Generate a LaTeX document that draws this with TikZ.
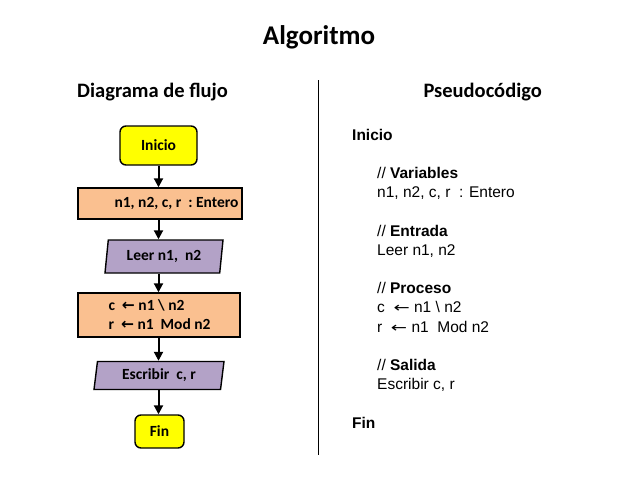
\documentclass[tikz,border=0pt]{standalone}
\usepackage{fontspec}
\usepackage{graphicx}
\setmainfont{Carlito}
\newfontfamily\arialf{Liberation Sans}
\newfontfamily\djv{DejaVu Sans}
\usetikzlibrary{arrows.meta,shapes.geometric}
\definecolor{termyellow}{HTML}{FFFF00}
\definecolor{procpeach}{HTML}{FAC090}
\definecolor{iopurple}{HTML}{B3A2C7}
\newcommand{\thinarrow}{{\djv\scalebox{1.25}[0.9]{←}}}
\begin{document}
\begin{tikzpicture}[x=1pt,y=-1pt,
  box/.style={draw=black, line width=1.4pt, inner sep=0pt, font=\bfseries\fontsize{15.5}{19}\selectfont},
  term/.style={box, fill=termyellow, rounded corners=6pt},
  procbox/.style={box, fill=procpeach},
  iobox/.style={box, fill=iopurple, trapezium, trapezium stretches body,
                trapezium left angle=75, trapezium right angle=105},
  arr/.style={line width=2pt, -{Triangle[length=9pt,width=9pt]}},
  pseudo/.style={anchor=base west, inner sep=0pt, font=\arialf\fontsize{15.5}{19}\selectfont},
  head/.style={anchor=base, inner sep=0pt, font=\bfseries\fontsize{20.5}{24}\selectfont}
]
\useasboundingbox (0,0) rectangle (638,479);
\fill[white] (0,0) rectangle (638,479);

% titles
\node[anchor=base, inner sep=0pt, font=\bfseries\fontsize{27}{32}\selectfont] (title) at (319,45) {Algoritmo};
\node[head, anchor=base west] (hflow) at (77,97) {Diagrama de flujo};
\node[head, anchor=base east] (hpseudo) at (542,97) {Pseudocódigo};

% divider
\coordinate (divtop) at (318,80);
\coordinate (divbot) at (318,455);
\draw[line width=0.9pt] (divtop) -- (divbot);

% flowchart
\node[term, minimum width=77pt, minimum height=39pt] (ini) at (158.5,145.5) {Inicio};
\node[procbox, minimum width=164pt, minimum height=31pt, text width=157pt, align=right] (dec) at (160,203.5)
  {n1,\hspace{3.5pt}n2,\hspace{3.5pt}c,\hspace{3.5pt}r\hspace{7pt}:\hspace{3.5pt}Entero\hspace*{3pt}};
\node[iobox, minimum width=118pt, minimum height=33pt] (leer) at (164,256.5) {Leer n1,\ \ n2};
\node[procbox, minimum width=162pt, minimum height=44pt] (proc) at (159,315) {};
\node[anchor=west, inner sep=0pt, align=left, font=\bfseries\fontsize{15.5}{19}\selectfont] (proctext) at ([xshift=31pt]proc.west)
  {c\ \ {\djv\bfseries ←} n1 \textbackslash\ n2\\ r\ \ {\djv\bfseries ←} n1\ \ Mod n2};
\node[iobox, minimum width=130pt, minimum height=28pt] (escr) at (159,375.5) {Escribir\ \ c, r};
\node[term, minimum width=49pt, minimum height=33pt] (fin) at (159.5,431.5) {Fin};

\draw[arr] (ini.south) -- (ini.south |- dec.north);
\draw[arr] (dec.south -| ini.south) -- (ini.south |- leer.north);
\draw[arr] (leer.south -| ini.south) -- (ini.south |- proc.north);
\draw[arr] (proc.south -| ini.south) -- (ini.south |- escr.north);
\draw[arr] (escr.south -| ini.south) -- (ini.south |- fin.north);

% pseudocode
\node[pseudo] (p0) at (352,140) {\bfseries Inicio};
\node[pseudo] (p1) at (377,178.4) {// \bfseries Variables};
\node[pseudo] (p2) at (377,197.6) {n1, n2, c, r\ \ : Entero};
\node[pseudo] (p3) at (377,236) {// \bfseries Entrada};
\node[pseudo] (p4) at (377,255) {Leer n1, n2};
\node[pseudo] (p5) at (377,293.6) {// \bfseries Proceso};
\node[pseudo] (p6) at (377,312.8) {c\ \ \thinarrow\ n1 \textbackslash\ n2};
\node[pseudo] (p7) at (377,332) {r\ \ \thinarrow\ n1\ \ Mod n2};
\node[pseudo] (p8) at (377,370.4) {// \bfseries Salida};
\node[pseudo] (p9) at (377,389.6) {Escribir c, r};
\node[pseudo] (p10) at (352,428) {\bfseries Fin};
\end{tikzpicture}
\end{document}
